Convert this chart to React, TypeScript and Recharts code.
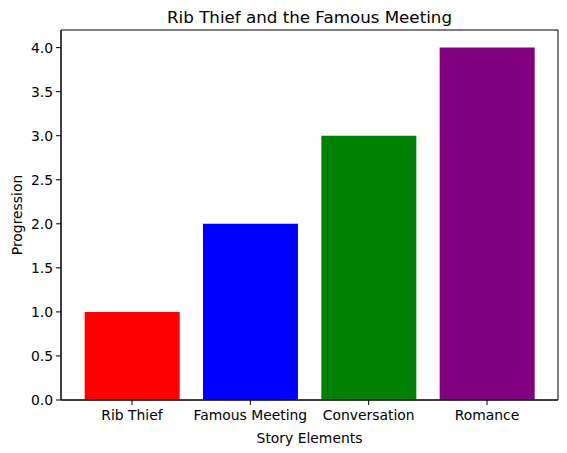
import React from "react";
import { BarChart, Bar, XAxis, YAxis, Cell, Label, ReferenceArea } from "recharts";

const categories = ["Rib Thief", "Famous Meeting", "Conversation", "Romance"];
const progression = [1, 2, 3, 4];
const barColors = ["red", "blue", "green", "purple"];
const yTicks = [0, 0.5, 1, 1.5, 2, 2.5, 3, 3.5, 4];

const data = categories.map((c, i) => ({ name: c, value: progression[i] }));
const frameMax = Math.max(...progression);

const FONT = "'DejaVu Sans', sans-serif";

export default function App() {
  return (
    <div style={{ position: "absolute", left: 0, top: 0, width: 567, height: 453, background: "#fff", fontFamily: FONT }}>
      <div
        style={{
          position: "absolute",
          left: 61,
          width: 497,
          top: 7,
          textAlign: "center",
          fontSize: 16.7,
          lineHeight: "20px",
          color: "#000",
        }}
      >
        Rib Thief and the Famous Meeting
      </div>
      <BarChart
        width={567}
        height={453}
        data={data}
        margin={{ top: 30, right: 9, bottom: 0, left: 0 }}
        barCategoryGap="10%"
        style={{ fontFamily: FONT }}
      >
        <XAxis
          dataKey="name"
          xAxisId="main"
          height={53}
          padding={{ left: 11.83, right: 11.83 }}
          axisLine={{ stroke: "#000" }}
          tickLine={{ stroke: "#000" }}
          tickSize={5}
          tickMargin={5}
          tick={{ fill: "#000", fontSize: 13.9 }}
          interval={0}
        >
          <Label
            value="Story Elements"
            position="insideBottom"
            offset={10}
            style={{ fill: "#000", fontSize: 13.9 }}
          />
        </XAxis>
        <XAxis xAxisId="frame" dataKey="value" type="number" domain={[0, frameMax]} height={0} hide />
        <YAxis
          width={61}
          domain={[0, 4.2]}
          ticks={yTicks}
          allowDataOverflow
          axisLine={{ stroke: "#000" }}
          tickLine={{ stroke: "#000" }}
          tickSize={5}
          tickMargin={3}
          tick={{ fill: "#000", fontSize: 13.9 }}
          tickFormatter={(v: number) => v.toFixed(1)}
        >
          <Label
            content={(props: any) => {
              const vb = props.viewBox || {};
              const cy = (vb.y ?? 30) + (vb.height ?? 370) / 2;
              return (
                <text
                  x={17}
                  y={cy}
                  transform={`rotate(-90, 17, ${cy})`}
                  textAnchor="middle"
                  dominantBaseline="central"
                  fill="#000"
                  fontSize={13.9}
                  fontFamily={FONT}
                >
                  Progression
                </text>
              );
            }}
          />
        </YAxis>
        <Bar dataKey="value" xAxisId="main" isAnimationActive={false}>
          {data.map((d, i) => (
            <Cell key={d.name} fill={barColors[i]} />
          ))}
        </Bar>
        <ReferenceArea xAxisId="frame" x1={0} x2={frameMax} y1={0} y2={4.2} fill="none" fillOpacity={0} stroke="#000" strokeWidth={1} />
      </BarChart>
    </div>
  );
}
